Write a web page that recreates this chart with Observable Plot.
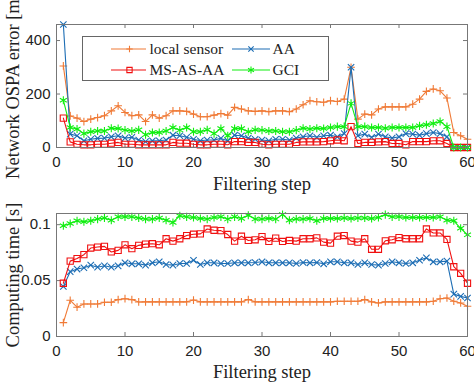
<!DOCTYPE html>
<html><head><meta charset="utf-8">
<script src="https://cdn.jsdelivr.net/npm/d3@7"></script>
<script src="https://cdn.jsdelivr.net/npm/@observablehq/plot@0.6"></script>
<style>
body{margin:0;background:#fff;}
#wrap{position:relative;width:474px;height:382px;overflow:hidden;background:#fff}
#wrap > svg{display:block}
#legend{position:absolute;left:82px;top:36px}
</style></head><body><div id="wrap"></div>
<script>
const steps = [1,2,3,4,5,6,7,8,9,10,11,12,13,14,15,16,17,18,19,20,21,22,23,24,25,26,27,28,29,30,31,32,33,34,35,36,37,38,39,40,41,42,43,44,45,46,47,48,49,50,51,52,53,54,55,56,57,58,59,60];
const seriesNames = ["local sensor","AA","MS-AS-AA","GCI"];

const ospaLocal = [305,118,110,97,106,112,119,137,156,131,119,122,97,122,110,119,137,137,135,125,115,115,121,127,121,150,144,137,135,137,134,137,137,134,144,160,175,171,169,175,172,181,300,106,125,122,144,152,152,152,152,162,181,210,219,212,185,56,44,31];
const ospaAA = [460,50,44,25,31,34,35,40,44,35,38,28,22,25,25,28,46,44,38,31,25,28,28,34,25,46,44,35,31,28,25,31,31,28,35,40,44,38,44,46,40,52,300,44,50,38,50,40,35,40,52,50,46,52,56,52,40,0,0,0];
const ospaMS = [110,21,12,10,10,12,12,16,19,12,12,10,10,10,10,10,19,16,16,12,10,10,12,12,10,22,22,19,19,12,10,12,12,12,19,21,21,21,22,25,28,25,78,15,19,19,21,22,15,15,10,22,22,22,25,25,15,0,0,0];
const ospaGCI = [177,75,69,52,59,62,62,72,71,65,62,66,48,56,56,62,75,65,75,59,59,66,52,71,44,71,71,59,66,65,62,62,59,59,65,72,69,72,71,75,78,78,165,78,78,75,75,72,75,75,75,75,81,85,90,97,78,0,0,0];

const timeLocal = [0.0124,0.0324,0.0262,0.0291,0.0291,0.0291,0.0306,0.0306,0.033,0.0338,0.033,0.0309,0.031,0.031,0.031,0.031,0.031,0.031,0.031,0.0326,0.031,0.031,0.031,0.031,0.031,0.031,0.031,0.033,0.031,0.031,0.031,0.031,0.031,0.031,0.031,0.031,0.031,0.031,0.031,0.031,0.0315,0.0315,0.0315,0.0315,0.033,0.031,0.030,0.031,0.031,0.031,0.031,0.031,0.031,0.031,0.0315,0.0338,0.0344,0.0315,0.030,0.027];
const timeAA = [0.0447,0.058,0.0603,0.0615,0.0638,0.062,0.0632,0.062,0.0632,0.0659,0.065,0.065,0.0638,0.0659,0.0668,0.0644,0.0638,0.0653,0.0653,0.0682,0.0644,0.0659,0.0659,0.0653,0.0653,0.0659,0.0659,0.0659,0.0662,0.0668,0.0659,0.0659,0.0659,0.0659,0.0653,0.0662,0.0659,0.0662,0.065,0.0668,0.0668,0.0659,0.0659,0.0644,0.0659,0.0644,0.0638,0.0653,0.0668,0.0659,0.0653,0.0659,0.0682,0.0703,0.0668,0.0668,0.0674,0.0379,0.0359,0.0344];
const timeMS = [0.0476,0.0674,0.0697,0.0732,0.0791,0.080,0.0806,0.0756,0.077,0.082,0.0785,0.0815,0.0826,0.083,0.082,0.0874,0.0853,0.0874,0.0903,0.0915,0.0918,0.0962,0.095,0.0947,0.0912,0.0853,0.0897,0.0859,0.0865,0.0894,0.085,0.088,0.085,0.0859,0.0853,0.0874,0.0874,0.0882,0.0844,0.0835,0.0897,0.0903,0.0853,0.0844,0.0874,0.078,0.078,0.0856,0.0865,0.0885,0.0874,0.0874,0.0874,0.0962,0.0926,0.0926,0.0868,0.0624,0.0565,0.0476];
const timeGCI = [0.099,0.101,0.1035,0.1026,0.1035,0.105,0.106,0.104,0.107,0.107,0.107,0.106,0.105,0.105,0.106,0.104,0.102,0.108,0.107,0.1065,0.1056,0.105,0.1065,0.107,0.105,0.107,0.1056,0.1085,0.105,0.105,0.1056,0.105,0.109,0.104,0.105,0.105,0.1056,0.1035,0.1056,0.1056,0.1056,0.106,0.1056,0.106,0.106,0.1056,0.1065,0.109,0.107,0.107,0.1065,0.1065,0.1065,0.1065,0.1065,0.107,0.104,0.1035,0.0968,0.0909];

const xTicks = [0,10,20,30,40,50,60];
const ospaTicks = [0,200,400];
const timeTicks = [0,0.05,0.1];
const xLabel = "Filtering step";
const ospaLabel = "Network OSPA error [m]";
const timeLabel = "Computing time [s]";

// styles
const colors = {"local sensor":"#F07A36","AA":"#1C6DB4","MS-AS-AA":"#F01010","GCI":"#10EE10"};
const symbols = {"local sensor":"plus","AA":"times","MS-AS-AA":"square","GCI":"asterisk"};
const radii = {"local sensor":2.6,"AA":3,"MS-AS-AA":3.5,"GCI":3.8};
const frameColor = "#777";
const serif = "'Liberation Serif','Times New Roman',serif";
const sans = "'Liberation Sans',Arial,sans-serif";

function panel({series, yDomain, yTicks, yLabel, height, mt, mb, labelDy}) {
  const W = 474, ml = 56, mr = 7;
  const innerH = height - mt - mb, innerW = W - ml - mr;
  const marks = [
    Plot.tickX(xTicks, {x: d => d, insetTop: innerH - 4, stroke: frameColor}),
    Plot.tickX(xTicks, {x: d => d, insetBottom: innerH - 4, stroke: frameColor}),
    Plot.tickY(yTicks, {y: d => d, insetRight: innerW - 4, stroke: frameColor}),
    Plot.tickY(yTicks, {y: d => d, insetLeft: innerW - 4, stroke: frameColor})
  ];
  seriesNames.forEach((name, i) => {
    const rows = steps.map((s, j) => ({step: s, value: series[i][j]}));
    marks.push(Plot.line(rows, {x: "step", y: "value", stroke: colors[name], strokeWidth: 1.1}));
    marks.push(Plot.dot(rows, {x: "step", y: "value", symbol: symbols[name], r: radii[name], stroke: colors[name], fill: "none", strokeWidth: 1.1}));
  });
  marks.push(
    Plot.frame({stroke: frameColor}),
    Plot.axisX(xTicks, {tickSize: 0, tickPadding: 9, fontSize: 15, label: null, fill: "#222"}),
    Plot.axisY(yTicks, {tickSize: 0, tickPadding: 6, fontSize: 15, label: null, fill: "#222", tickFormat: d => String(d)}),
    Plot.text([yLabel], {frameAnchor: "left", dx: -43, rotate: -90, text: d => d, fontSize: 18.5, fontFamily: serif, fill: "#222", lineAnchor: "middle", textAnchor: "middle"}),
    Plot.text([xLabel], {frameAnchor: "bottom", dy: labelDy, text: d => d, fontSize: 18.5, fontFamily: serif, fill: "#222", lineAnchor: "middle", textAnchor: "middle"})
  );
  return Plot.plot({
    width: W, height, marginLeft: ml, marginRight: mr, marginTop: mt, marginBottom: mb,
    style: {fontFamily: sans, background: "#fff", color: "#222", overflow: "visible"},
    x: {domain: [0, 60]},
    y: {domain: yDomain},
    marks
  });
}

const wrap = document.getElementById("wrap");
wrap.appendChild(panel({series: [ospaLocal, ospaAA, ospaMS, ospaGCI], yDomain: [0, 460], yTicks: ospaTicks, yLabel: ospaLabel, height: 190, mt: 24, mb: 43, labelDy: 37}));
wrap.appendChild(panel({series: [timeLocal, timeAA, timeMS, timeGCI], yDomain: [0, 0.11], yTicks: timeTicks, yLabel: timeLabel, height: 192, mt: 23, mb: 46, labelDy: 36}));

// legend (inside top panel, upper left)
const legendOrder = [["local sensor", 0, 0], ["AA", 1, 0], ["MS-AS-AA", 0, 1], ["GCI", 1, 1]];
const lg = d3.create("svg").attr("id", "legend").attr("width", 247).attr("height", 46);
lg.append("rect").attr("x", 0.5).attr("y", 0.5).attr("width", 246).attr("height", 44).attr("fill", "#fff").attr("stroke", "#666");
const colX = [{l0: 29, l1: 64, m: 47.5, t: 67.5}, {l0: 150, l1: 188, m: 169, t: 190.5}];
const rowY = [13, 34];
const symMap = {plus: d3.symbolPlus, times: d3.symbolTimes, square: d3.symbolSquare, asterisk: d3.symbolAsterisk};
legendOrder.forEach(([name, c, r]) => {
  const cx = colX[c], y = rowY[r];
  const g = lg.append("g");
  g.append("line").attr("x1", cx.l0).attr("x2", cx.l1).attr("y1", y).attr("y2", y).attr("stroke", colors[name]).attr("stroke-width", 1.1);
  const rr = radii[name] * 0.85;
  g.append("path").attr("transform", `translate(${cx.m},${y})`).attr("d", d3.symbol(symMap[symbols[name]], Math.PI * rr * rr)()).attr("fill", "none").attr("stroke", colors[name]).attr("stroke-width", 1.1);
  g.append("text").attr("x", cx.t).attr("y", y).attr("dy", "0.35em").attr("font-family", serif).attr("font-size", 15.5).attr("fill", "#222").text(name);
});
wrap.appendChild(lg.node());
</script></body></html>
